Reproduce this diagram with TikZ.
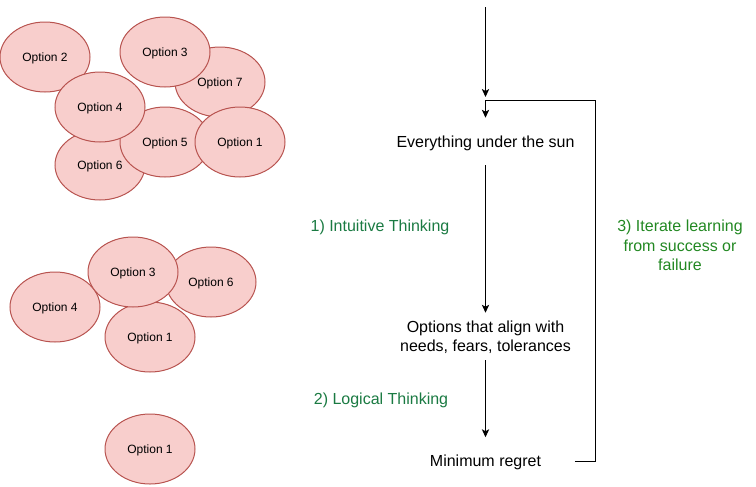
\documentclass[tikz,border=0pt]{standalone}
\usepackage{fontspec}
\setmainfont{Liberation Sans}
\usetikzlibrary{positioning,shapes.geometric,arrows.meta}
\definecolor{optfill}{HTML}{F8CECC}
\definecolor{optline}{HTML}{B85450}
\definecolor{thinkgreen}{RGB}{26,122,66}
\definecolor{iterategreen}{RGB}{34,136,34}
\tikzset{
    option/.style={ellipse, draw=optline, fill=optfill, line width=0.75pt,
        minimum width=67.5pt, minimum height=52.5pt, inner sep=0pt,
        text depth=0pt, font=\fontsize{9}{11}\selectfont},
    stage/.style={minimum width=133.5pt, minimum height=35.25pt, inner sep=0pt,
        text depth=0pt, align=center, font=\fontsize{12}{14.25}\selectfont},
    thinking/.style={align=center, text depth=0pt,
        font=\fontsize{12}{14.5}\selectfont},
    flow/.style={draw, line width=0.75pt,
        -{Stealth[length=6pt, width=5.5pt, inset=1.5pt]}}
}

\begin{document}
\begin{tikzpicture}[x=0.75pt, y=-0.75pt]
\useasboundingbox (0,0) rectangle (756,486);

% everything under the sun
\node[option] (all2) at (45,57) {Option 2};
\node[option] (all6) at (100,165) {Option 6};
\node[option] (all5) at (165,142) {Option 5};
\node[option] (all4) at (100,107) {Option 4};
\node[option] (all7) at (220,82) {Option 7};
\node[option] (all3) at (165,52) {Option 3};
\node[option] (all1) at (240,142) {Option 1};

% options that align
\node[option] (fit4) at (55,307) {Option 4};
\node[option] (fit6) at (211,282) {Option 6};
\node[option] (fit1) at (150,337) {Option 1};
\node[option] (fit3) at (133,272) {Option 3};

% minimum regret
\node[option] (best1) at (150,449) {Option 1};

% the funnel
\coordinate (start) at (485.5,7);
\coordinate (entry) at (485.5,97);
\coordinate (loop) at (595.5,100);
\node[stage] (sun) at (485.5,141.5) {Everything under the sun};
\node[stage] (align) at (485.5,336.5) {Options that align with\\needs, fears, tolerances};
\node[stage] (regret) at (485.5,461) {Minimum regret};

\draw[flow] (start) -- (entry);
\draw[flow] (sun) -- (align);
\draw[flow] (align) -- (regret);
\draw[flow] (regret.east) -| (loop) -| (sun.north);

\node[thinking, text=thinkgreen] (intuitive) at (380,226) {1) Intuitive Thinking};
\node[thinking, text=thinkgreen] (logical) at (381,399) {2) Logical Thinking};
\node[thinking, text=iterategreen] (iterate) at (680,245.5) {3) Iterate learning\\from success or\\failure};
\end{tikzpicture}
\end{document}
